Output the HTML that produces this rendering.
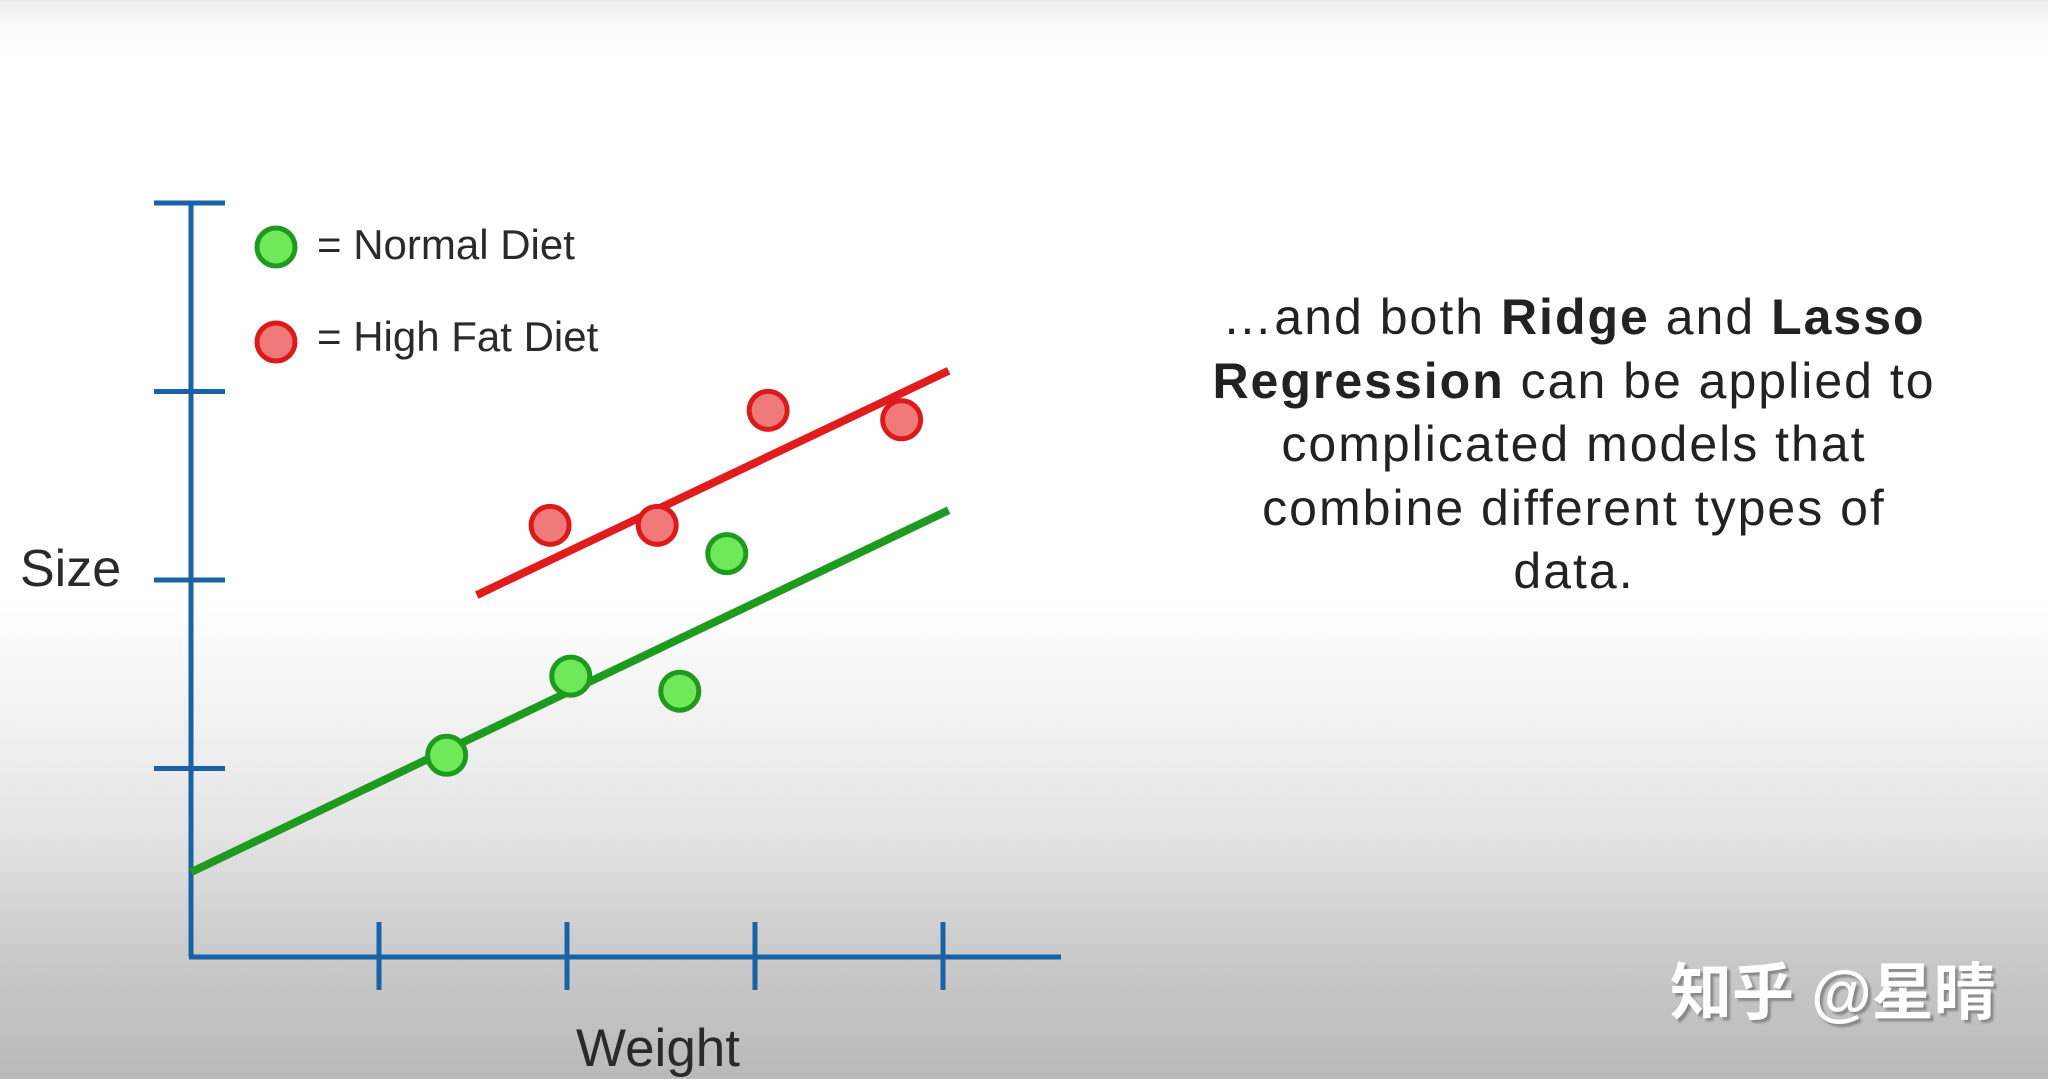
<!DOCTYPE html>
<html><head><meta charset="utf-8"><style>
html,body{margin:0;padding:0}
body{width:2048px;height:1079px;overflow:hidden;position:relative;
background:linear-gradient(to bottom,#ececec 0px,#fafafa 25px,#fff 60px,#fff 600px,#e6e6e6 820px,#c9c9c9 960px,#b9b9b9 1079px);
font-family:"Liberation Sans","Noto Sans CJK SC",sans-serif}
.desc{position:absolute;left:1074px;top:286px;width:1000px;text-align:center;font-size:50px;letter-spacing:2px;line-height:63.5px;color:#222}
.wm{position:absolute;left:1670px;top:942px;font-size:62px;color:#fff;font-weight:bold;text-shadow:3px 3px 2px #888;font-family:"Liberation Sans","Noto Sans CJK SC",sans-serif}
</style></head><body>
<svg id="chart" width="2048" height="1079" style="position:absolute;left:0;top:0"></svg>
<div class="desc">…and both <b>Ridge</b> and <b>Lasso</b><br><b>Regression</b> can be applied to<br>complicated models that<br>combine different types of<br>data.</div>
<div class="wm">知乎 @星晴</div>
<script>
const xTicks=[1,2,3,4];
const yTicks=[0,1,2,3,4];
const greenX=[1.36,2.02,2.60,2.85];
const greenY=[1.07,1.49,1.41,2.14];
const redX=[1.91,2.48,3.07,3.78];
const redY=[2.29,2.29,2.90,2.85];
const greenLineX=[0,4.03];
const greenLineY=[0.45,2.37];
const redLineX=[1.52,4.03];
const redLineY=[1.92,3.11];
const X0=191,Y0=957,UX=188,UY=188.5;
function sx(v){return X0+v*UX;}
function sy(v){return Y0-v*UY;}
const svg=document.getElementById('chart');
const NS='http://www.w3.org/2000/svg';
function mk(t,a){const e=document.createElementNS(NS,t);for(const k in a)e.setAttribute(k,a[k]);svg.appendChild(e);return e;}
const blue='#1a62a6';
let e=mk('line',{x1:X0,y1:sy(4),x2:X0,y2:Y0,stroke:blue,'stroke-width':5});


e=mk('line',{x1:X0-2,y1:Y0,x2:1061,y2:Y0,stroke:blue,'stroke-width':5});


yTicks.forEach(v=>{if(v===0)return;const t=mk('line',{x1:154,y1:sy(v),x2:225,y2:sy(v),stroke:blue,'stroke-width':5});

});
xTicks.forEach(v=>{const t=mk('line',{x1:sx(v),y1:922,x2:sx(v),y2:990,stroke:blue,'stroke-width':5});

});
e=mk('line',{x1:sx(greenLineX[0]),y1:sy(greenLineY[0]),x2:sx(greenLineX[1]),y2:sy(greenLineY[1]),stroke:'#1e9a1e','stroke-width':8});


e=mk('line',{x1:sx(redLineX[0]),y1:sy(redLineY[0]),x2:sx(redLineX[1]),y2:sy(redLineY[1]),stroke:'#e01c1c','stroke-width':8});


redX.forEach((x,i)=>{const c=mk('circle',{cx:sx(x),cy:sy(redY[i]),r:19,fill:'#f07a7a',stroke:'#dd1a1a','stroke-width':5});

});
greenX.forEach((x,i)=>{const c=mk('circle',{cx:sx(x),cy:sy(greenY[i]),r:19,fill:'#6fe85a',stroke:'#1e9a1e','stroke-width':5});

});
e=mk('circle',{cx:276,cy:247,r:19,fill:'#6fe85a',stroke:'#1e9a1e','stroke-width':5});


e=mk('circle',{cx:276,cy:342,r:19,fill:'#f07a7a',stroke:'#dd1a1a','stroke-width':5});


function txt(s,x,y,size,anchor,name){const t=mk('text',{x:x,y:y,'font-size':size,fill:'#2a2a2a','text-anchor':anchor,'font-family':'Liberation Sans, sans-serif'});t.textContent=s;

return t;}
txt('= Normal Diet',317,259,42,'start','legend-normal-label');
txt('= High Fat Diet',317,351,42,'start','legend-highfat-label');
txt('Size',20,586,52,'start','y-axis-title');
txt('Weight',658,1066,53,'middle','x-axis-title');
</script>
</body></html>
